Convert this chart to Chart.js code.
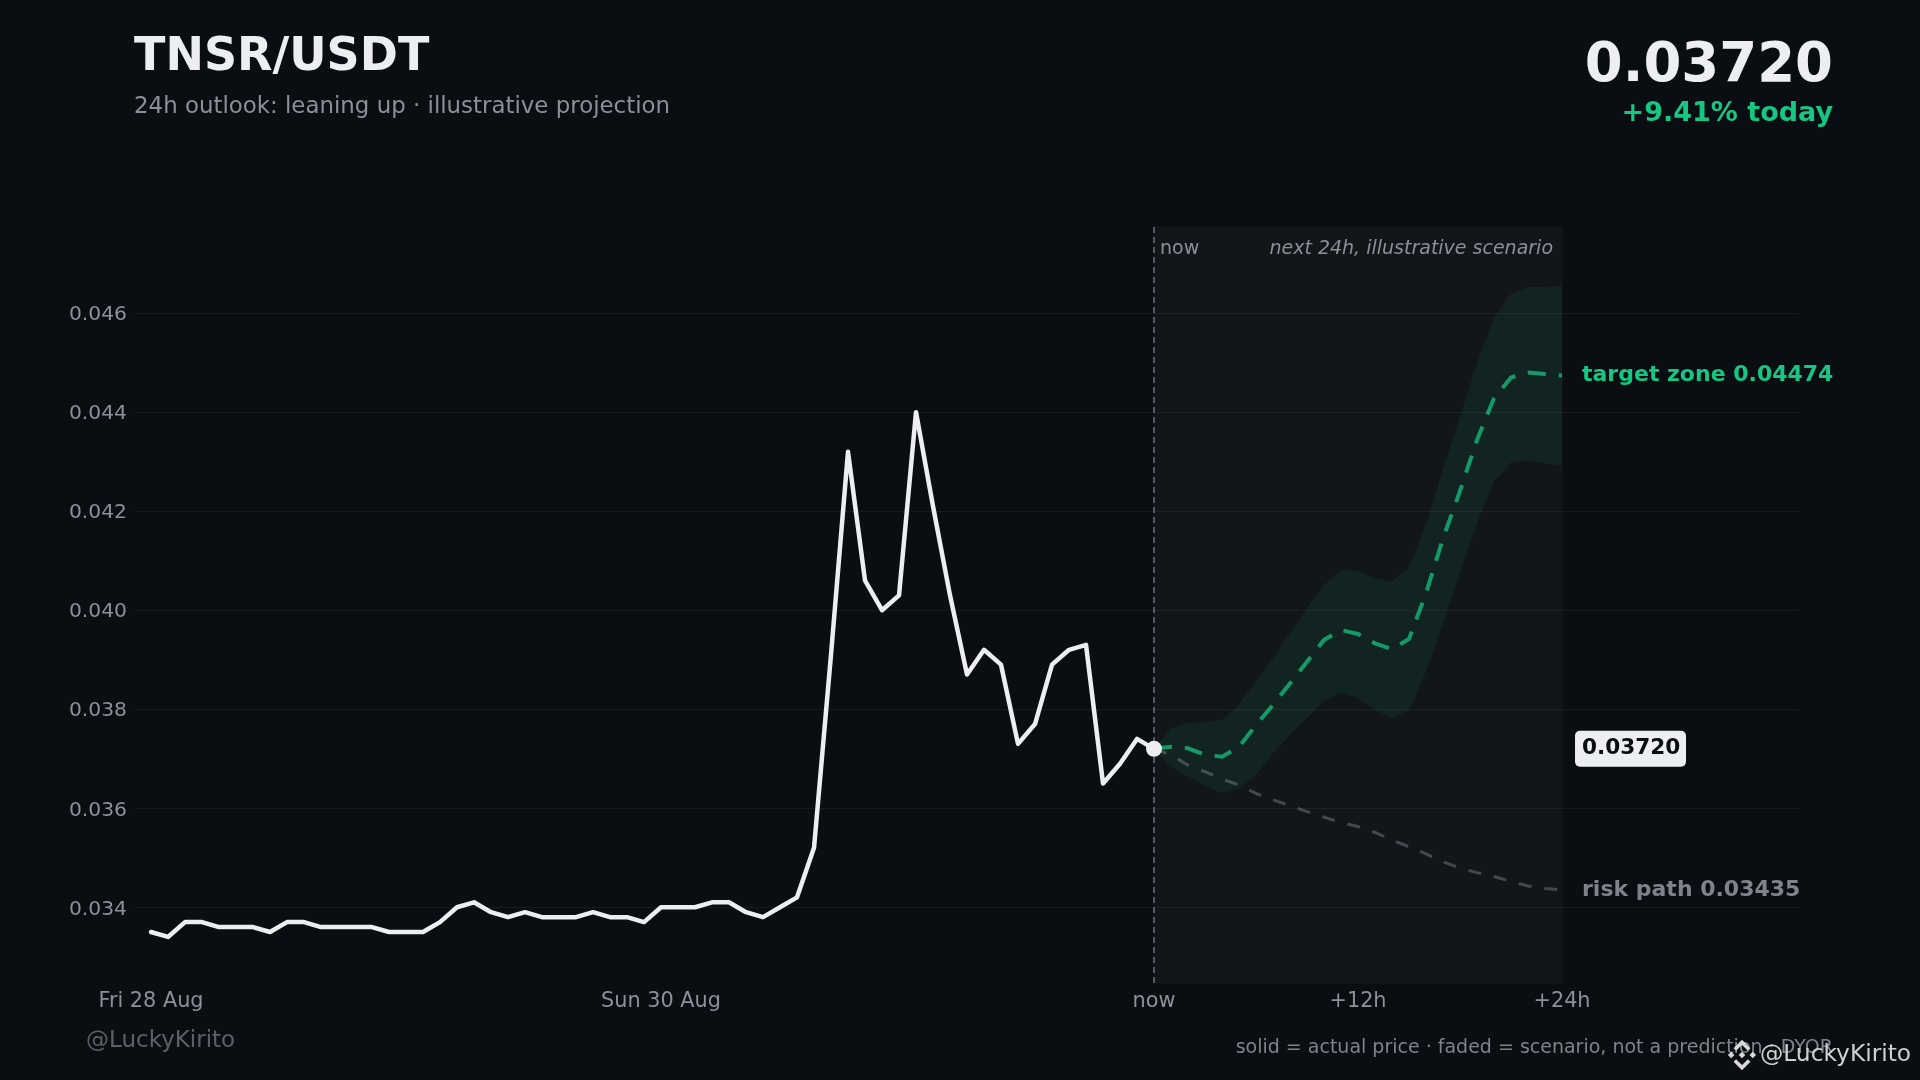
<!DOCTYPE html>
<html>
<head>
<meta charset="utf-8">
<title>TNSR/USDT</title>
<script src="https://cdn.jsdelivr.net/npm/chart.js@4/dist/chart.umd.min.js"></script>
<style>
  html, body { margin: 0; background: #0a0e12; }
  canvas { display: block; }
</style>
</head>
<body>
<canvas id="myChart" width="1920" height="1080"></canvas>
<script>
const priceValues = [
    0.0335, 0.0334, 0.0337, 0.0337, 0.0336, 0.0336, 0.0336, 0.0335, 0.0337, 0.0337,
    0.0336, 0.0336, 0.0336, 0.0336, 0.0335, 0.0335, 0.0335, 0.0337, 0.0340, 0.0341,
    0.0339, 0.0338, 0.0339, 0.0338, 0.0338, 0.0338, 0.0339, 0.0338, 0.0338, 0.0337,
    0.0340, 0.0340, 0.0340, 0.0341, 0.0341, 0.0339, 0.0338, 0.0340, 0.0342, 0.0352,
    0.0391, 0.0432, 0.0406, 0.0400, 0.0403, 0.0440, 0.0421, 0.0403, 0.0387, 0.0392,
    0.0389, 0.0373, 0.0377, 0.0389, 0.0392, 0.0393, 0.0365, 0.0369, 0.0374, 0.0372
];

// hourly scenario, starts at "now"
const targetValues = [
    0.0372, 0.03724, 0.03721, 0.03708, 0.03704, 0.03724, 0.03768, 0.03809, 0.03852, 0.03896,
    0.0394, 0.0396, 0.03952, 0.03933, 0.03921, 0.03942, 0.04034, 0.04145, 0.04241, 0.04344,
    0.04428, 0.0447, 0.0448, 0.04477, 0.04474
];
const bandUpper = [
    0.0372, 0.03762, 0.03772, 0.03773, 0.03778, 0.03809, 0.03856, 0.03903, 0.03954, 0.04004,
    0.04051, 0.04081, 0.04079, 0.04065, 0.04058, 0.04085, 0.04172, 0.04285, 0.0439, 0.04499,
    0.0459, 0.04639, 0.04653, 0.04653, 0.04655
];
const bandLower = [
    0.0372, 0.03684, 0.03664, 0.03645, 0.03631, 0.0364, 0.03667, 0.03711, 0.03748, 0.03782,
    0.03817, 0.03834, 0.03822, 0.03799, 0.0378, 0.03799, 0.03876, 0.03974, 0.04075, 0.04176,
    0.0426, 0.04299, 0.04302, 0.04297, 0.04292
];
const riskValues = [
    0.0372, 0.03708, 0.03687, 0.03674, 0.03659, 0.03647, 0.0363, 0.03617, 0.03605, 0.03593,
    0.03582, 0.03571, 0.03563, 0.03551, 0.03536, 0.03522, 0.03508, 0.03492, 0.03479, 0.0347,
    0.03462, 0.03452, 0.03443, 0.03438, 0.03435
];

const xTickPositions = [0, 30, 59, 71, 83];
const xTickLabels = ['Fri 28 Aug', 'Sun 30 Aug', 'now', '+12h', '+24h'];
const yTickValues = [0.034, 0.036, 0.038, 0.040, 0.042, 0.044, 0.046];

const nowIndex = 59;
const endIndex = 83;

const FONT = '"DejaVu Sans"';
const TEXT = '#eceef2';
const MUTED = '#8b9099';
const GREEN = '#16c784';

const history = priceValues.map((y, i) => ({ x: i, y: y }));
const future = values => values.map((y, i) => ({ x: nowIndex + i, y: y }));

function put(ctx, str, x, y, font, color, align) {
    ctx.font = font;
    ctx.fillStyle = color;
    ctx.textAlign = align || 'left';
    ctx.textBaseline = 'middle';
    ctx.fillText(str, x, y);
}

// shaded "next 24h" panel and the dashed now line
const panelPlugin = {
    id: 'panel',
    beforeDatasetsDraw(chart) {
        const { ctx, chartArea, scales } = chart;
        const x0 = scales.x.getPixelForValue(nowIndex);
        const x1 = scales.x.getPixelForValue(endIndex);
        ctx.save();
        ctx.fillStyle = 'rgba(255,255,255,0.035)';
        ctx.fillRect(x0, chartArea.top, x1 - x0, chartArea.bottom - chartArea.top);
        ctx.strokeStyle = 'rgba(255,255,255,0.03)';
        ctx.lineWidth = 1;
        ctx.strokeRect(x0, chartArea.top, x1 - x0, chartArea.bottom - chartArea.top);
        ctx.strokeStyle = '#656a73';
        ctx.lineWidth = 1.6;
        ctx.setLineDash([6, 4]);
        ctx.beginPath();
        ctx.moveTo(x0, chartArea.top);
        ctx.lineTo(x0, chartArea.bottom);
        ctx.stroke();
        ctx.restore();
    }
};

function binanceMark(ctx, cx, cy, s, color) {
    ctx.save();
    ctx.translate(cx, cy);
    ctx.fillStyle = color;
    ctx.strokeStyle = color;
    ctx.lineWidth = s * 0.24;
    ctx.lineJoin = 'miter';
    const diamond = (x, y, r) => {
        ctx.beginPath();
        ctx.moveTo(x, y - r);
        ctx.lineTo(x + r, y);
        ctx.lineTo(x, y + r);
        ctx.lineTo(x - r, y);
        ctx.closePath();
        ctx.fill();
    };
    diamond(0, 0, s * 0.22);
    diamond(-s * 0.72, 0, s * 0.22);
    diamond(s * 0.72, 0, s * 0.22);
    ctx.beginPath();
    ctx.moveTo(-s * 0.48, -s * 0.36);
    ctx.lineTo(0, -s * 0.84);
    ctx.lineTo(s * 0.48, -s * 0.36);
    ctx.stroke();
    ctx.beginPath();
    ctx.moveTo(-s * 0.48, s * 0.36);
    ctx.lineTo(0, s * 0.84);
    ctx.lineTo(s * 0.48, s * 0.36);
    ctx.stroke();
    ctx.restore();
}

// header, footer and the end-of-line labels
const textPlugin = {
    id: 'texts',
    afterDraw(chart) {
        const { ctx, scales } = chart;
        const x0 = scales.x.getPixelForValue(nowIndex);
        const x1 = scales.x.getPixelForValue(endIndex);
        const labelX = 1582;
        ctx.save();

        put(ctx, 'TNSR/USDT', 134, 58.5, 'bold 46px ' + FONT, TEXT);
        put(ctx, '24h outlook: leaning up · illustrative projection', 134, 107.5, '22.9px ' + FONT, MUTED);
        put(ctx, '0.03720', 1833, 66.5, 'bold 54.5px ' + FONT, TEXT, 'right');
        put(ctx, '+9.41% today', 1833, 113.5, 'bold 27px ' + FONT, GREEN, 'right');

        put(ctx, 'now', x0 + 6, 249, '19px ' + FONT, MUTED);
        put(ctx, 'next 24h, illustrative scenario', x1 - 9, 249, 'italic 19px ' + FONT, MUTED, 'right');

        put(ctx, 'target zone 0.04474', labelX, scales.y.getPixelForValue(targetValues[24]), 'bold 22px ' + FONT, GREEN);
        put(ctx, 'risk path 0.03435', labelX, scales.y.getPixelForValue(riskValues[24]), 'bold 22px ' + FONT, '#7f848c');

        const yNow = scales.y.getPixelForValue(priceValues[nowIndex]);
        ctx.fillStyle = TEXT;
        ctx.beginPath();
        ctx.roundRect(1575, yNow - 18, 111, 36, 5);
        ctx.fill();
        put(ctx, '0.03720', labelX, yNow, 'bold 21.6px ' + FONT, '#0a0e12');

        put(ctx, '@LuckyKirito', 86, 1041, '23px ' + FONT, '#5c6168');
        put(ctx, 'solid = actual price · faded = scenario, not a prediction · DYOR', 1833, 1048.5, '19px ' + FONT, '#7f848c', 'right');

        binanceMark(ctx, 1742, 1055, 15, '#d8d8d8');
        put(ctx, '@LuckyKirito', 1760, 1055, '23.3px ' + FONT, '#cfd0d2');
        ctx.restore();
    }
};

const data = {
    datasets: [
        {
            data: [{ x: nowIndex, y: priceValues[nowIndex] }],
            borderWidth: 0,
            pointRadius: 8,
            pointBackgroundColor: TEXT,
            showLine: false,
            order: 1
        },
        {
            data: history,
            borderColor: TEXT,
            borderWidth: 4.5,
            borderJoinStyle: 'round',
            borderCapStyle: 'round',
            pointRadius: 0,
            tension: 0,
            order: 2
        },
        {
            data: future(targetValues),
            borderColor: 'rgba(22,199,132,0.72)',
            borderWidth: 4,
            borderDash: [18, 13],
            pointRadius: 0,
            tension: 0,
            order: 3
        },
        {
            data: future(riskValues),
            borderColor: 'rgba(139,144,153,0.42)',
            borderWidth: 3,
            borderDash: [13, 13],
            pointRadius: 0,
            tension: 0,
            order: 4
        },
        {
            data: future(bandUpper),
            borderWidth: 0,
            pointRadius: 0,
            backgroundColor: 'rgba(22,199,132,0.08)',
            fill: '+1',
            tension: 0,
            order: 5
        },
        {
            data: future(bandLower),
            borderWidth: 0,
            pointRadius: 0,
            fill: false,
            tension: 0,
            order: 6
        }
    ]
};

const config = {
    type: 'line',
    data: data,
    plugins: [panelPlugin, textPlugin],
    options: {
        responsive: false,
        devicePixelRatio: 1,
        animation: false,
        layout: { padding: { top: 227, right: 121, left: 0, bottom: 0 } },
        plugins: { legend: { display: false }, tooltip: { enabled: false } },
        scales: {
            x: {
                type: 'linear',
                min: -1.0,
                max: 96.94,
                border: { display: false },
                grid: { display: false, drawTicks: false },
                afterBuildTicks(axis) {
                    axis.ticks = xTickPositions.map(v => ({ value: v }));
                },
                afterFit(axis) { axis.height = 97; },
                ticks: {
                    autoSkip: false,
                    maxRotation: 0,
                    padding: 6,
                    color: MUTED,
                    font: { family: FONT, size: 20.8 },
                    callback: v => xTickLabels[xTickPositions.indexOf(v)]
                }
            },
            y: {
                min: 0.03247,
                max: 0.04774,
                border: { display: false },
                grid: { color: 'rgba(255,255,255,0.05)', lineWidth: 1, drawTicks: false },
                afterBuildTicks(axis) {
                    axis.ticks = yTickValues.map(v => ({ value: v }));
                },
                afterFit(axis) { axis.width = 134; },
                ticks: {
                    padding: 7,
                    labelOffset: 2,
                    color: MUTED,
                    font: { family: FONT, size: 20.3 },
                    callback: v => v.toFixed(3)
                }
            }
        }
    }
};

new Chart(document.getElementById('myChart'), config);
</script>
</body>
</html>
